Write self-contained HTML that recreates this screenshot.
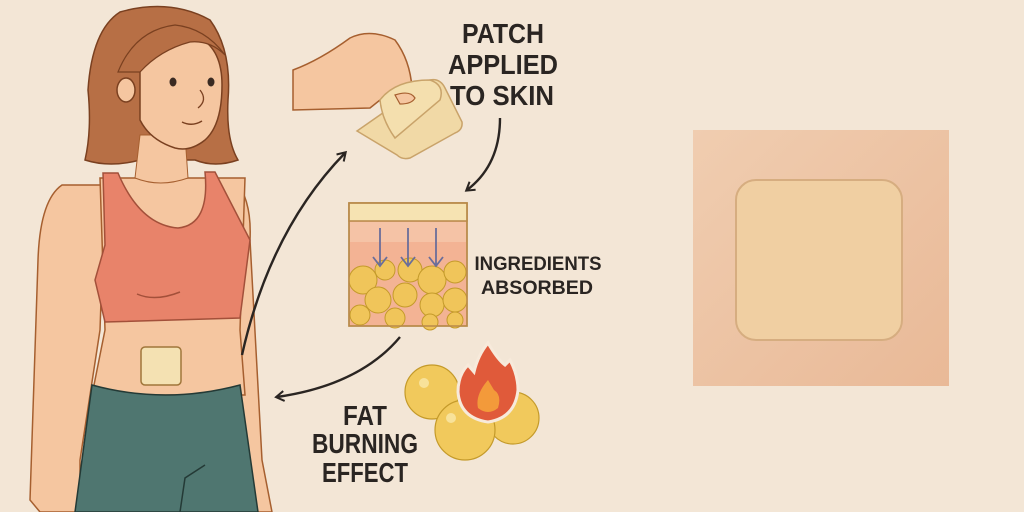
<!DOCTYPE html>
<html><head><meta charset="utf-8"><style>
html,body{margin:0;padding:0;background:#f3e6d6}
svg{display:block}
text{font-family:"Liberation Sans",sans-serif;font-weight:bold;fill:#2a2522}
</style></head><body>
<svg width="1024" height="512" viewBox="0 0 1024 512" xmlns="http://www.w3.org/2000/svg">
<defs>
<linearGradient id="sk" x1="0" y1="0" x2="1" y2="1"><stop offset="0" stop-color="#f0cdb0"/><stop offset="1" stop-color="#e9b997"/></linearGradient>
<marker id="ah" markerWidth="12" markerHeight="12" refX="8" refY="6" orient="auto" markerUnits="userSpaceOnUse"><path d="M1,1 L9,6 L1,11" fill="none" stroke="#2a2522" stroke-width="2"/></marker>
</defs>
<rect width="1024" height="512" fill="#f3e6d6"/>
<!-- hair back -->
<path d="M120,12 Q170,-2 210,20 Q232,50 228,100 Q226,140 238,160 Q215,168 195,160 L140,160 Q110,168 85,160 Q92,130 88,90 Q92,30 120,12Z" fill="#b76f45" stroke="#7a4020" stroke-width="1.5"/>
<!-- arms -->
<path d="M62,185 Q40,200 38,260 L30,500 L40,512 L80,512 L80,460 L100,330 L105,185Z" fill="#f5c6a0" stroke="#a65f2f" stroke-width="1.5"/>
<path d="M235,180 Q252,200 250,240 L262,460 L272,512 L240,512 L238,330Z" fill="#f5c6a0" stroke="#a65f2f" stroke-width="1.5"/>
<!-- torso -->
<path d="M100,178 L245,178 L240,330 L245,395 L92,395 L105,330Z" fill="#f5c6a0" stroke="#a65f2f" stroke-width="1.5"/>
<!-- neck -->
<path d="M140,135 L185,135 L188,178 Q160,188 135,178Z" fill="#f5c6a0" stroke="#a65f2f" stroke-width="1"/>
<!-- face -->
<path d="M140,70 Q160,35 200,38 Q222,50 222,85 Q222,125 205,140 Q190,152 175,148 Q150,140 140,120 Z" fill="#f5c6a0" stroke="#7a4020" stroke-width="1.5"/>
<ellipse cx="126" cy="90" rx="9" ry="12" fill="#f5c6a0" stroke="#7a4020" stroke-width="1.5"/>
<!-- hair front -->
<path d="M118,72 Q135,30 175,25 Q205,28 225,55 Q210,40 190,42 Q160,50 140,72 Z" fill="#b76f45" stroke="#7a4020" stroke-width="1.2"/>
<ellipse cx="173" cy="82" rx="3.5" ry="4.5" fill="#3a2a22"/><ellipse cx="211" cy="82" rx="3.5" ry="4.5" fill="#3a2a22"/>
<path d="M200,90 Q208,100 198,108" fill="none" stroke="#7a4020" stroke-width="1.3"/>
<path d="M182,122 Q192,127 202,121" fill="none" stroke="#7a4020" stroke-width="1.5"/>
<!-- top -->
<path d="M103,173 L118,173 Q140,225 178,228 Q210,225 205,172 L215,172 L250,240 L240,318 L105,322 L95,280 L105,245Z" fill="#e8836a" stroke="#a3503a" stroke-width="1.5"/>
<path d="M137,294 Q155,302 180,292" fill="none" stroke="#a3503a" stroke-width="1.5"/>
<!-- patch -->
<rect x="141" y="347" width="40" height="38" rx="4" fill="#f4e1b2" stroke="#a0763a" stroke-width="1.5"/>
<!-- pants -->
<path d="M92,385 Q165,405 240,385 L258,512 L75,512 Z" fill="#4f7670" stroke="#243a36" stroke-width="1.5"/>
<path d="M205,465 L185,478 L180,512" fill="none" stroke="#243a36" stroke-width="1.5"/>
<!-- hand & patch -->
<path d="M357,131 L430,80 Q440,78 445,88 L462,122 Q463,130 455,133 L410,158 Q402,160 397,155 Z" fill="#f1d9a6" stroke="#c9a36a" stroke-width="1.5"/>
<path d="M293,70 Q320,60 350,38 Q370,28 395,40 Q410,60 412,88 L408,98 L380,100 L370,108 L293,110Z" fill="#f5c6a0" stroke="#a65f2f" stroke-width="1.5"/>
<path d="M380,100 Q395,80 430,80 Q445,85 440,100 L395,138 Q382,120 380,100Z" fill="#f4dfae" stroke="#c9a36a" stroke-width="1.5"/>
<path d="M395,95 Q410,90 415,98 Q412,104 400,104Z" fill="#f5c6a0" stroke="#a65f2f" stroke-width="1.2"/>
<!-- labels -->
<text x="503" y="43" font-size="28" text-anchor="middle" textLength="82" lengthAdjust="spacingAndGlyphs">PATCH</text>
<text x="503" y="74" font-size="28" text-anchor="middle" textLength="110" lengthAdjust="spacingAndGlyphs">APPLIED</text>
<text x="502" y="105" font-size="28" text-anchor="middle" textLength="104" lengthAdjust="spacingAndGlyphs">TO SKIN</text>
<text x="538" y="270" font-size="19" text-anchor="middle" textLength="127" lengthAdjust="spacingAndGlyphs">INGREDIENTS</text>
<text x="537" y="294" font-size="19" text-anchor="middle" textLength="112" lengthAdjust="spacingAndGlyphs">ABSORBED</text>
<text x="365" y="425" font-size="28" text-anchor="middle" textLength="44" lengthAdjust="spacingAndGlyphs">FAT</text>
<text x="365" y="453" font-size="28" text-anchor="middle" textLength="106" lengthAdjust="spacingAndGlyphs">BURNING</text>
<text x="365" y="482" font-size="28" text-anchor="middle" textLength="86" lengthAdjust="spacingAndGlyphs">EFFECT</text>
<!-- skin box -->
<rect x="349" y="203" width="118" height="123" fill="#f3b394" stroke="#b88a4a" stroke-width="1.5"/>
<rect x="349" y="203" width="118" height="18" fill="#f6e3b2" stroke="#b88a4a" stroke-width="1.5"/>
<rect x="350" y="222" width="116" height="20" fill="#f5c3a6"/>
<g fill="#f0c55a" stroke="#c49a2a" stroke-width="1">
<circle cx="363" cy="280" r="14"/><circle cx="385" cy="270" r="10"/><circle cx="410" cy="270" r="12"/><circle cx="432" cy="280" r="14"/><circle cx="455" cy="272" r="11"/>
<circle cx="378" cy="300" r="13"/><circle cx="405" cy="295" r="12"/><circle cx="432" cy="305" r="12"/><circle cx="455" cy="300" r="12"/><circle cx="360" cy="315" r="10"/><circle cx="395" cy="318" r="10"/><circle cx="430" cy="322" r="8"/><circle cx="455" cy="320" r="8"/>
</g>
<rect x="349" y="203" width="118" height="123" fill="none" stroke="#b88a4a" stroke-width="1.5"/>
<g stroke="#6a6e9a" stroke-width="1.8" fill="none">
<path d="M380,228 V265 M373,257 L380,266 L387,257"/>
<path d="M408,228 V265 M401,257 L408,266 L415,257"/>
<path d="M436,228 V265 M429,257 L436,266 L443,257"/>
</g>
<!-- arrows -->
<path d="M500,118 Q500,165 467,190" fill="none" stroke="#2a2522" stroke-width="2.4" marker-end="url(#ah)"/>
<path d="M242,355 Q270,230 345,153" fill="none" stroke="#2a2522" stroke-width="2.4" marker-end="url(#ah)"/>
<path d="M400,337 Q360,385 277,397" fill="none" stroke="#2a2522" stroke-width="2.4" marker-end="url(#ah)"/>
<!-- fat balls -->
<g fill="#f1c95c" stroke="#c49a2a" stroke-width="1.2">
<circle cx="432" cy="392" r="27"/><circle cx="513" cy="418" r="26"/><circle cx="465" cy="430" r="30"/>
</g>
<circle cx="424" cy="383" r="5" fill="#f8e29a"/><circle cx="451" cy="418" r="5" fill="#f8e29a"/>
<path d="M488,343 Q498,360 505,365 L510,360 Q518,375 518,390 Q515,418 488,422 Q460,418 458,392 Q458,375 468,365 L474,372 Q478,355 488,343Z" fill="#e05a3a" stroke="#f7eadb" stroke-width="3"/>
<path d="M488,380 Q475,395 478,408 Q488,416 498,408 Q502,395 494,390 Z" fill="#f39a3a"/>
<!-- right photo -->
<rect x="693" y="130" width="256" height="256" fill="url(#sk)"/>
<rect x="736" y="180" width="166" height="160" rx="20" fill="#f0cfa2" stroke="#d6ad80" stroke-width="2"/>
</svg>
</body></html>
